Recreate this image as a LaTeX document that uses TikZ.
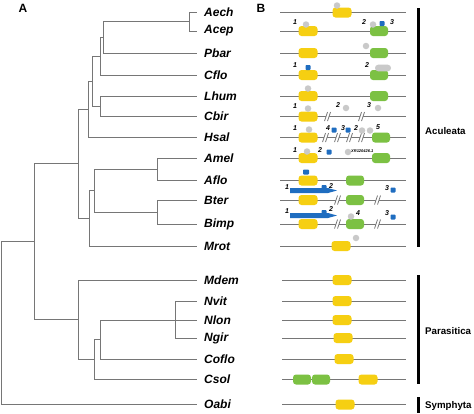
\documentclass[tikz,border=0pt]{standalone}
\usepackage{fontspec}
\setmainfont{Liberation Sans}
\definecolor{ygene}{HTML}{F6CF12}
\definecolor{ggene}{HTML}{7CC143}
\definecolor{bgene}{HTML}{1F6DC0}
\definecolor{greydot}{HTML}{C9C9C9}
\definecolor{treec}{HTML}{767676}
\tikzset{
  branch/.style={draw=treec, line width=1pt},
  tiplabel/.style={font=\bfseries\itshape\fontsize{12}{12}\selectfont, anchor=west, inner sep=0pt},
  gline/.style={draw=treec, line width=0.9pt},
  ybox/.style={fill=ygene, rounded corners=3pt, minimum width=19pt, minimum height=10pt, inner sep=0pt},
  gbox/.style={fill=ggene, rounded corners=3pt, minimum width=18pt, minimum height=10pt, inner sep=0pt},
  gdot/.style={circle, fill=greydot, minimum size=6.5pt, inner sep=0pt},
  bsq/.style={fill=bgene, rounded corners=0.8pt, minimum size=5pt, inner sep=0pt},
  num/.style={font=\bfseries\itshape\fontsize{7}{7}\selectfont, inner sep=0pt},
  bar/.style={draw=black, line width=3pt},
  grp/.style={font=\bfseries\fontsize{9.7}{9.7}\selectfont, anchor=west, inner sep=0pt},
  panel/.style={font=\bfseries\fontsize{12}{12}\selectfont, inner sep=0pt},
  brk/.pic={\fill[white] (-3.5,4.5)--(-0.5,-4.5)--(2.5,-4.5)--(-0.5,4.5)--cycle;
            \draw[treec, line width=0.8pt] (-3.5,4.5)--(-0.5,-4.5) (-0.5,4.5)--(2.5,-4.5);}
}
\begin{document}
\begin{tikzpicture}[x=1pt,y=-1pt]
\useasboundingbox (0,0) rectangle (474,413);
\fill[white] (0,0) rectangle (474,413);

\node[panel] (pA) at (23,8) {A};
\node[panel] (pB) at (261,8) {B};

% ---------- tips and labels ----------
\foreach \n/\y in {Aech/12.5,Acep/31,Pbar/53,Cflo/75,Lhum/96,Cbir/116.5,Hsal/137.5,Amel/158,Aflo/180.5,Bter/200,Bimp/224,Mrot/246,Mdem/280,Nvit/301,Nlon/320,Ngir/338,Coflo/359,Csol/379.5,Oabi/404.5}{
  \coordinate (t\n) at (197,\y);
  \node[tiplabel] (l\n) at (204,\y) {\n};
}

% ---------- internal nodes ----------
\coordinate (n1) at (189,21.75);
\coordinate (n2) at (103,37.4);
\coordinate (n3) at (100,56.2);
\coordinate (n4) at (100,106.25);
\coordinate (n5) at (92,81.2);
\coordinate (n6) at (88,109.4);
\coordinate (n7) at (157,169.25);
\coordinate (n8) at (157,212);
\coordinate (n9) at (94,190.6);
\coordinate (n10) at (89,218.3);
\coordinate (n11) at (78,163.9);
\coordinate (n12) at (175,320);
\coordinate (n13) at (100,339.5);
\coordinate (n14) at (94,359.5);
\coordinate (n15) at (78,319.8);
\coordinate (n16) at (34,241.8);
\coordinate (root) at (1.5,323);

\draw[branch] (n1) |- (tAech) (n1) |- (tAcep);
\draw[branch] (n2) |- (n1) (n2) |- (tPbar);
\draw[branch] (n3) |- (n2) (n3) |- (tCflo);
\draw[branch] (n4) |- (tLhum) (n4) |- (tCbir);
\draw[branch] (n5) |- (n3) (n5) |- (n4);
\draw[branch] (n6) |- (n5) (n6) |- (tHsal);
\draw[branch] (n7) |- (tAmel) (n7) |- (tAflo);
\draw[branch] (n8) |- (tBter) (n8) |- (tBimp);
\draw[branch] (n9) |- (n7) (n9) |- (n8);
\draw[branch] (n10) |- (n9) (n10) |- (tMrot);
\draw[branch] (n11) |- (n6) (n11) |- (n10);
\draw[branch] (n12) |- (tNvit) (n12) |- (tNlon) (n12) |- (tNgir);
\draw[branch] (n13) |- (n12) (n13) |- (tCoflo);
\draw[branch] (n14) |- (n13) (n14) |- (tCsol);
\draw[branch] (n15) |- (tMdem) (n15) |- (n14);
\draw[branch] (n16) |- (n11) (n16) |- (n15);
\draw[branch] (root) |- (n16) (root) |- (tOabi);

% ---------- gene lines ----------
\foreach \n/\y in {Aech/12.5,Acep/31,Pbar/53,Cflo/75,Lhum/96,Cbir/116.5,Hsal/137.5,Amel/158,Aflo/180.5,Bter/200,Bimp/224,Mrot/246}{
  \coordinate (gs\n) at (280,\y); \coordinate (ge\n) at (406,\y);
  \draw[gline] (gs\n) -- (ge\n);
}
\foreach \n/\y in {Mdem/280,Nvit/301,Nlon/320,Ngir/338,Coflo/359,Csol/379.5,Oabi/404.5}{
  \coordinate (gs\n) at (282,\y); \coordinate (ge\n) at (406,\y);
  \draw[gline] (gs\n) -- (ge\n);
}

% slashes
\pic at (328,116.5) {brk};
\pic at (362,116.5) {brk};
\foreach \x in {326,338,350,362} \pic at (\x,137.5) {brk};
\pic at (338,200) {brk};
\pic at (378,200) {brk};
\pic at (338,224) {brk};
\pic at (378,224) {brk};

% ---------- Aech ----------
\node[ybox] (yAech) at (342,12.5) {};
\node[gdot] (dAech) at (337,5.5) {};
% ---------- Acep ----------
\node[ybox] (yAcep) at (308,31) {};
\node[gbox] (gAcep) at (379,31) {};
\node[num] (a1) at (295,22) {1};
\node[gdot] (a2) at (306,24.5) {};
\node[num] (a3) at (364,22) {2};
\node[gdot] (a4) at (373,24.5) {};
\node[bsq] (a5) at (382,23.5) {};
\node[num] (a6) at (392,22) {3};
% ---------- Pbar ----------
\node[ybox] (yPbar) at (308,53) {};
\node[gbox] (gPbar) at (379,53) {};
\node[gdot] (p1) at (366,46) {};
% ---------- Cflo ----------
\node[ybox] (yCflo) at (308,75) {};
\node[gbox] (gCflo) at (379,75) {};
\node[num] (c1) at (295,65) {1};
\node[bsq] (c2) at (308,67.5) {};
\node[num] (c3) at (367,65) {2};
\node[fill=greydot, rounded corners=3.2pt, minimum width=16pt, minimum height=6.6pt, inner sep=0pt] (c4) at (383,68) {};
% ---------- Lhum ----------
\node[ybox] (yLhum) at (308,96) {};
\node[gbox] (gLhum) at (379,96) {};
\node[gdot] (h1) at (308,88.5) {};
% ---------- Cbir ----------
\node[ybox] (yCbir) at (308,116.5) {};
\node[num] (b1) at (295,106) {1};
\node[gdot] (b2) at (308,108.5) {};
\node[num] (b3) at (338,105) {2};
\node[gdot] (b4) at (346,108) {};
\node[num] (b5) at (369,105) {3};
\node[gdot] (b6) at (378,108) {};
% ---------- Hsal ----------
\node[ybox] (yHsal) at (308,137.5) {};
\node[gbox] (gHsal) at (381,137.5) {};
\node[num] (s1) at (295,128) {1};
\node[gdot] (s2) at (309,129.5) {};
\node[num] (s3) at (328,128) {4};
\node[bsq] (s4) at (334,130) {};
\node[num] (s5) at (343,128) {3};
\node[bsq] (s6) at (348,130) {};
\node[num] (s7) at (356,128) {2};
\node[gdot] (s8) at (362,130.5) {};
\node[gdot] (s9) at (370,130.5) {};
\node[num] (s10) at (378,127.5) {5};
% ---------- Amel ----------
\node[ybox] (yAmel) at (308,158) {};
\node[gbox] (gAmel) at (381,158) {};
\node[num] (m1) at (295,150) {1};
\node[gdot] (m2) at (307,151.5) {};
\node[num] (m3) at (320,150) {2};
\node[bsq] (m4) at (329,152) {};
\node[gdot] (m5) at (348,152) {};
\node[font=\bfseries\itshape\fontsize{4}{4}\selectfont, anchor=west, inner sep=0pt] (m6) at (351,151) {XR120426.1};
% ---------- Aflo ----------
\node[ybox] (yAflo) at (308,180.5) {};
\node[gbox] (gAflo) at (355,180.5) {};
\node[bsq, minimum width=6pt] (f1) at (306,172) {};
% ---------- Bter ----------
\node[ybox] (yBter) at (308,200) {};
\node[gbox] (gBter) at (355,200) {};
\fill[bgene] (290,188) -- (328,188) -- (337,190.5) -- (328,193) -- (290,193) -- cycle;
\node[bsq] (e1) at (324,187.5) {};
\node[num] (e2) at (287,187) {1};
\node[num] (e3) at (331,186) {2};
\node[num] (e4) at (387,188) {3};
\node[bsq] (e5) at (393,190) {};
% ---------- Bimp ----------
\node[ybox] (yBimp) at (308,224) {};
\node[gbox] (gBimp) at (355,224) {};
\fill[bgene] (290,213) -- (328,213) -- (337,215.5) -- (328,218) -- (290,218) -- cycle;
\node[bsq] (i1) at (324,212.5) {};
\node[num] (i2) at (287,211) {1};
\node[num] (i3) at (331,209.5) {2};
\node[gdot] (i4) at (351,216.5) {};
\node[num] (i5) at (358,213) {4};
\node[num] (i6) at (387,213) {3};
\node[bsq] (i7) at (393,217) {};
% ---------- Mrot ----------
\node[ybox] (yMrot) at (341,246) {};
\node[gdot] (r1) at (356,238) {};
% ---------- Parasitica ----------
\node[ybox] (yMdem) at (342,280) {};
\node[ybox] (yNvit) at (342,301) {};
\node[ybox] (yNlon) at (342,320) {};
\node[ybox] (yNgir) at (343,338) {};
\node[ybox] (yCoflo) at (344,359) {};
\node[gbox] (gCsol1) at (302,379.5) {};
\node[gbox] (gCsol2) at (321,379.5) {};
\node[ybox] (yCsol) at (368,379.5) {};
\node[ybox] (yOabi) at (345,404.5) {};

% ---------- group bars ----------
\coordinate (bA1) at (418,8); \coordinate (bA2) at (418,247);
\coordinate (bP1) at (418,275); \coordinate (bP2) at (418,384);
\coordinate (bS1) at (418,397); \coordinate (bS2) at (418,413);
\draw[bar] (bA1) -- (bA2);
\draw[bar] (bP1) -- (bP2);
\draw[bar] (bS1) -- (bS2);
\node[grp] (gA) at (425,131) {Aculeata};
\node[grp] (gP) at (425,331) {Parasitica};
\node[grp] (gS) at (425,406) {Symphyta};
\end{tikzpicture}
\end{document}
